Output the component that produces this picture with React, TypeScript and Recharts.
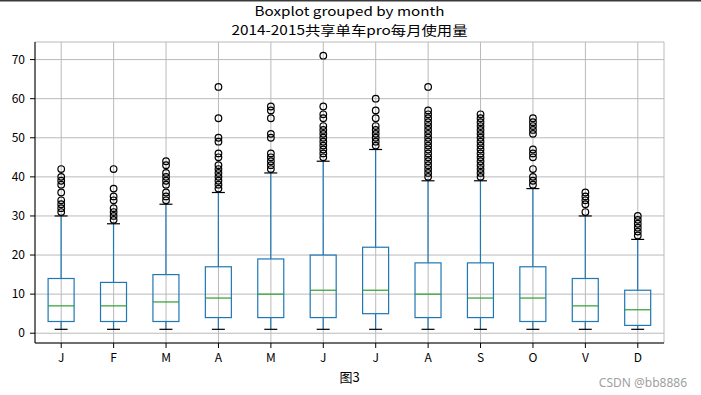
import { Bar, CartesianGrid, ComposedChart, Scatter, XAxis, YAxis } from "recharts";

// month keys stay unique (J/M/A repeat), labels are mapped on the axis
const months = ["1", "2", "3", "4", "5", "6", "7", "8", "9", "10", "11", "12"];
const monthLabels = ["J", "F", "M", "A", "M", "J", "J", "A", "S", "O", "V", "D"];

const whiskerLow = [1, 1, 1, 1, 1, 1, 1, 1, 1, 1, 1, 1];
const q1 = [3, 3, 3, 4, 4, 4, 5, 4, 4, 3, 3, 2];
const medians = [7, 7, 8, 9, 10, 11, 11, 10, 9, 9, 7, 6];
const q3 = [14, 13, 15, 17, 19, 20, 22, 18, 18, 17, 14, 11];
const whiskerHigh = [30, 28, 33, 36, 41, 44, 47, 39, 39, 37, 30, 24];

const outliers = [
  [31, 32, 33, 34, 36, 38, 39, 40, 42],
  [29, 30, 31, 32, 34, 35, 37, 42],
  [34, 35, 36, 38, 39, 40, 41, 43, 44],
  [37, 38, 39, 40, 41, 42, 43, 45, 46, 49, 50, 55, 63],
  [42, 43, 44, 45, 46, 50, 51, 55, 57, 58],
  [45, 46, 47, 48, 49, 50, 51, 52, 53, 55, 56, 58, 71],
  [48, 49, 50, 51, 52, 53, 55, 57, 60],
  [40, 41, 42, 43, 44, 45, 46, 47, 48, 49, 50, 51, 52, 53, 54, 55, 56, 57, 63],
  [40, 41, 42, 43, 44, 45, 46, 47, 48, 49, 50, 51, 52, 53, 54, 55, 56],
  [38, 39, 40, 42, 45, 46, 47, 51, 52, 53, 54, 55],
  [31, 33, 34, 35, 36],
  [25, 26, 27, 28, 29, 30],
];

const yTicks = [0, 10, 20, 30, 40, 50, 60, 70];

const BLUE = "#1f77b4";
const GREEN = "#2ca02c";
const FONT = "'Noto Sans CJK SC', sans-serif";

const boxes = months.map((m, i) => ({
  month: m,
  range: [whiskerLow[i], whiskerHigh[i]],
  lo: whiskerLow[i],
  q1: q1[i],
  med: medians[i],
  q3: q3[i],
  hi: whiskerHigh[i],
}));

const fliers = outliers.flatMap((vals, i) =>
  vals.map((v) => ({ month: months[i], value: v }))
);

function BoxShape(props: any) {
  const { x, y, width, height, payload } = props;
  if (!payload) return null;
  const { lo, hi } = payload;
  const top = Math.min(y, y + height);
  const ppu = Math.abs(height) / (hi - lo);
  const py = (v: number) => top + (hi - v) * ppu;
  const cx = x + width / 2;
  const cap = width / 4;
  return (
    <g strokeWidth={1.2}>
      <line x1={cx} x2={cx} y1={py(payload.q3)} y2={py(hi)} stroke={BLUE} />
      <line x1={cx} x2={cx} y1={py(payload.q1)} y2={py(lo)} stroke={BLUE} />
      <line x1={cx - cap} x2={cx + cap} y1={py(hi)} y2={py(hi)} stroke="#000" />
      <line x1={cx - cap} x2={cx + cap} y1={py(lo)} y2={py(lo)} stroke="#000" />
      <rect
        x={x}
        y={py(payload.q3)}
        width={width}
        height={py(payload.q1) - py(payload.q3)}
        fill="none"
        stroke={BLUE}
      />
      <line x1={x} x2={x + width} y1={py(payload.med)} y2={py(payload.med)} stroke={GREEN} />
    </g>
  );
}

function Flier(props: any) {
  const { cx, cy } = props;
  if (cx == null || cy == null) return null;
  return <circle cx={cx} cy={cy} r={3.3} fill="none" stroke="#000" strokeWidth={1.2} />;
}

export default function App() {
  return (
    <div style={{ position: "absolute", left: 0, top: 0, width: 701, height: 395, background: "#fff" }}>
      <ComposedChart
        width={701}
        height={395}
        data={boxes}
        margin={{ top: 42, right: 37, bottom: 0, left: 0 }}
        barCategoryGap="25%"
      >
        <rect x={0} y={0} width={701} height={1.5} fill="#3a3a3a" />
        <text
          x={349.5}
          y={16}
          textAnchor="middle"
          fontSize={12.5}
          fontFamily={FONT}
          textLength={190}
          lengthAdjust="spacingAndGlyphs"
          fill="#000"
        >
          Boxplot grouped by month
        </text>
        <text
          x={349.5}
          y={35}
          textAnchor="middle"
          fontSize={13}
          fontFamily={FONT}
          textLength={236}
          lengthAdjust="spacingAndGlyphs"
          fill="#000"
        >
          2014-2015共享单车pro每月使用量
        </text>
        <CartesianGrid stroke="#bababa" strokeWidth={1} />
        <XAxis
          dataKey="month"
          allowDuplicatedCategory={false}
          height={52}
          tickSize={5}
          tickMargin={5}
          tickFormatter={(v) => monthLabels[months.indexOf(String(v))]}
          axisLine={{ stroke: "#000" }}
          tickLine={{ stroke: "#000" }}
          tick={{ fill: "#000", fontSize: 12, fontFamily: FONT }}
          interval={0}
          label={{ value: "图3", position: "insideBottom", offset: 13, fill: "#000", fontSize: 13, fontFamily: FONT }}
        />
        <XAxis
          xAxisId="top"
          orientation="top"
          dataKey="month"
          allowDuplicatedCategory={false}
          height={0}
          tick={false}
          tickLine={false}
          axisLine={{ stroke: "#000" }}
        />
        <YAxis
          width={35}
          domain={[-2.5, 74.5]}
          ticks={yTicks}
          tickSize={5}
          tickMargin={5}
          axisLine={{ stroke: "#000" }}
          tickLine={{ stroke: "#000" }}
          tick={{ fill: "#000", fontSize: 12, fontFamily: FONT }}
        />
        <YAxis
          yAxisId="right"
          orientation="right"
          width={0}
          domain={[-2.5, 74.5]}
          tick={false}
          tickLine={false}
          axisLine={{ stroke: "#000" }}
        />
        <Bar dataKey="range" shape={<BoxShape />} isAnimationActive={false} />
        <Scatter data={fliers} dataKey="value" shape={<Flier />} isAnimationActive={false} />
        <text x={687} y={387} textAnchor="end" fontSize={12} fontFamily="'Noto Sans', sans-serif" fill="#a0a0a0">
          CSDN @bb8886
        </text>
      </ComposedChart>
    </div>
  );
}
